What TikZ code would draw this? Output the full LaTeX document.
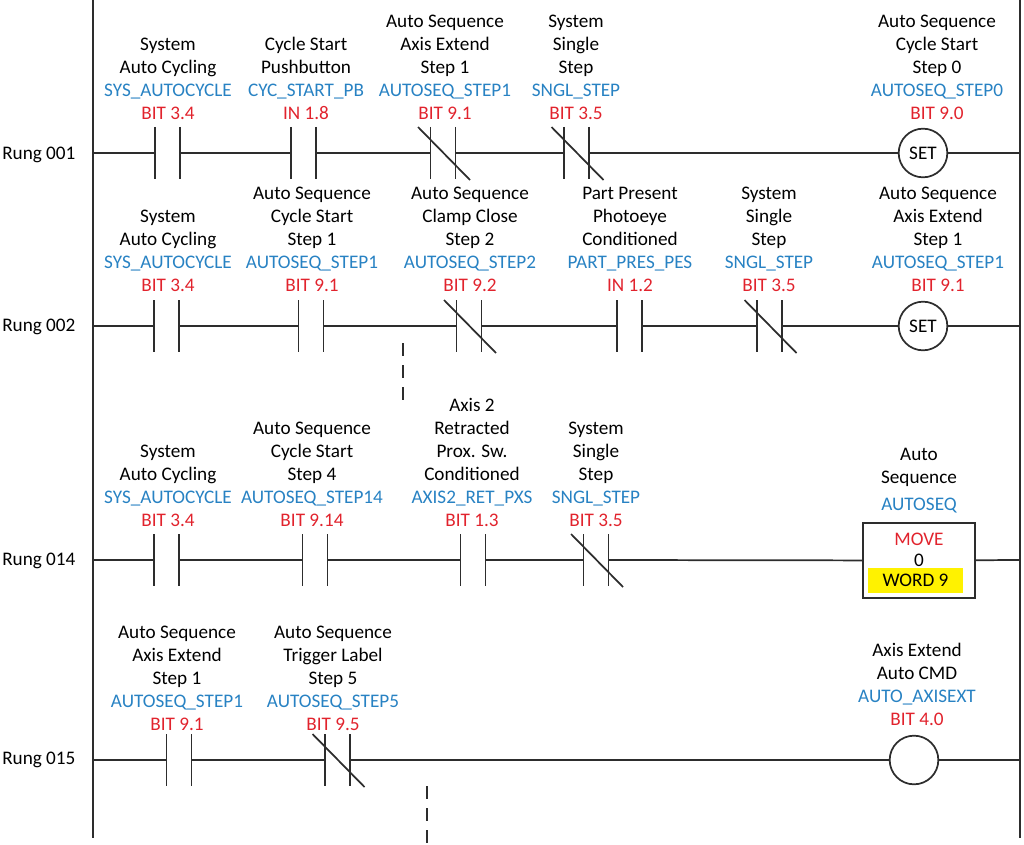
\documentclass[tikz,border=0pt]{standalone}
\usepackage{fontspec}
\setmainfont{Carlito}
\usepackage{xcolor}

\definecolor{tagblue}{RGB}{40,130,195}
\definecolor{addrred}{RGB}{225,35,45}
\definecolor{wire}{RGB}{45,45,45}

\newcommand{\tg}[1]{\textcolor{tagblue}{#1}}
\newcommand{\ad}[1]{\textcolor{addrred}{#1}}

\tikzset{
	rail/.style={line width=1.7pt, draw=wire},
	rung/.style={line width=1.3pt, draw=wire},
	cut/.style={rung, dash pattern=on 9.75pt off 6.75pt},
	lbl/.style={anchor=south, inner sep=0pt, align=center, font=\fontsize{14.4}{17.25}\selectfont},
	coil/.style={circle, draw=wire, line width=1.3pt, minimum size=36.5pt, inner sep=0pt, font=\fontsize{14.4}{17.25}\selectfont},
	no contact/.pic={
		\draw[rung] (-12.5,-26) -- (-12.5,26) (12.5,-26) -- (12.5,26);
		\coordinate (-l) at (-12.5,0);
		\coordinate (-r) at (12.5,0);
	},
	nc contact/.pic={
		\draw[rung] (-12.5,-26) -- (-12.5,26) (12.5,-26) -- (12.5,26);
		\draw[rung] (-25,-26) -- (27,27);
		\coordinate (-l) at (-12.5,0);
		\coordinate (-r) at (12.5,0);
	}
}

\begin{document}
\begin{tikzpicture}[x=0.75pt, y=-0.75pt]
	\useasboundingbox (0,0) rectangle (1024,845);
	
	% power rails
	\coordinate (lt) at (93,0);
	\coordinate (lb) at (93,838);
	\coordinate (rt) at (1020,0);
	\coordinate (rb) at (1020,838);
	\draw[rail] (lt) -- (lb);
	\draw[rail] (rt) -- (rb);
	
	% rung 001
	\node[lbl, anchor=west] (n1) at (2,155) {Rung 001};
	\coordinate (L1) at (93,153);
	\coordinate (R1) at (1020,153);
	\pic (c11) at (167.5,153) {no contact};
	\pic (c12) at (303.5,153) {no contact};
	\pic (c13) at (443,153) {nc contact};
	\pic (c14) at (576.5,153) {nc contact};
	\node[coil] (k1) at (923,153) {SET};
	\draw[rung] (L1) -- (c11-l) (c11-r) -- (c12-l) (c12-r) -- (c13-l) (c13-r) -- (c14-l) (c14-r) -- (k1) (k1) -- (R1);
	\node[lbl] (t11) at (168,120) {System\\Auto Cycling\\\tg{SYS\_AUTOCYCLE}\\\ad{BIT 3.4}};
	\node[lbl] (t12) at (306,120) {Cycle Start\\Pushbutton\\\tg{CYC\_START\_PB}\\\ad{IN 1.8}};
	\node[lbl] (t13) at (445,120) {Auto Sequence\\Axis Extend\\Step 1\\\tg{AUTOSEQ\_STEP1}\\\ad{BIT 9.1}};
	\node[lbl] (t14) at (576,120) {System\\Single\\Step\\\tg{SNGL\_STEP}\\\ad{BIT 3.5}};
	\node[lbl] (t15) at (937,120) {Auto Sequence\\Cycle Start\\Step 0\\\tg{AUTOSEQ\_STEP0}\\\ad{BIT 9.0}};
	
	% rung 002
	\node[lbl, anchor=west] (n2) at (2,327) {Rung 002};
	\coordinate (L2) at (93,326);
	\coordinate (R2) at (1020,326);
	\pic (c21) at (166.5,326) {no contact};
	\pic (c22) at (311,326) {no contact};
	\pic (c23) at (469,326) {nc contact};
	\pic (c24) at (629.5,326) {no contact};
	\pic (c25) at (769.5,326) {nc contact};
	\node[coil] (k2) at (923,326) {SET};
	\draw[rung] (L2) -- (c21-l) (c21-r) -- (c22-l) (c22-r) -- (c23-l) (c23-r) -- (c24-l) (c24-r) -- (c25-l) (c25-r) -- (k2) (k2) -- (R2);
	\node[lbl] (t21) at (168,292) {System\\Auto Cycling\\\tg{SYS\_AUTOCYCLE}\\\ad{BIT 3.4}};
	\node[lbl] (t22) at (312,292) {Auto Sequence\\Cycle Start\\Step 1\\\tg{AUTOSEQ\_STEP1}\\\ad{BIT 9.1}};
	\node[lbl] (t23) at (470,292) {Auto Sequence\\Clamp Close\\Step 2\\\tg{AUTOSEQ\_STEP2}\\\ad{BIT 9.2}};
	\node[lbl] (t24) at (630,292) {Part Present\\Photoeye\\Conditioned\\\tg{PART\_PRES\_PES}\\\ad{IN 1.2}};
	\node[lbl] (t25) at (769,292) {System\\Single\\Step\\\tg{SNGL\_STEP}\\\ad{BIT 3.5}};
	\node[lbl] (t26) at (938,292) {Auto Sequence\\Axis Extend\\Step 1\\\tg{AUTOSEQ\_STEP1}\\\ad{BIT 9.1}};
	
	% skipped rungs
	\coordinate (s1) at (403,343);
	\coordinate (s2) at (403,400);
	\draw[cut] (s1) -- (s2);
	
	% rung 014
	\node[lbl, anchor=west] (n3) at (2,561) {Rung 014};
	\coordinate (L3) at (93,560);
	\coordinate (R3) at (1020,560);
	\pic (c31) at (166.5,560) {no contact};
	\pic (c32) at (315,560) {no contact};
	\pic (c33) at (473,560) {no contact};
	\pic (c34) at (596,560) {nc contact};
	\node[draw=wire, line width=1.4pt, minimum width=84pt, minimum height=56.25pt, inner sep=0pt] (m3) at (919,560.5) {};
	\draw[rung] (L3) -- (c31-l) (c31-r) -- (c32-l) (c32-r) -- (c33-l) (c33-r) -- (c34-l) (c34-r) -- (m3) (m3) -- (R3);
	\node[lbl] (t31) at (168,527) {System\\Auto Cycling\\\tg{SYS\_AUTOCYCLE}\\\ad{BIT 3.4}};
	\node[lbl] (t32) at (312,527) {Auto Sequence\\Cycle Start\\Step 4\\\tg{AUTOSEQ\_STEP14}\\\ad{BIT 9.14}};
	\node[lbl] (t33) at (472,527) {Axis 2\\Retracted\\Prox. Sw.\\Conditioned\\\tg{AXIS2\_RET\_PXS}\\\ad{BIT 1.3}};
	\node[lbl] (t34) at (596,527) {System\\Single\\Step\\\tg{SNGL\_STEP}\\\ad{BIT 3.5}};
	\node[lbl] (t35) at (919,513) {Auto\\Sequence\\[3pt]\tg{AUTOSEQ}};
	\node[lbl, anchor=center, text=addrred] (mv) at (919,539) {MOVE};
	\node[lbl, anchor=center] (mz) at (919,560) {0};
	\node[lbl, anchor=center, fill=yellow, minimum width=71.25pt, minimum height=18.75pt] (mw) at (915.5,580.5) {WORD 9};
	
	% rung 015
	\node[lbl, anchor=west] (n4) at (2,760) {Rung 015};
	\coordinate (L4) at (93,760);
	\coordinate (R4) at (1020,760);
	\pic (c41) at (179,760) {no contact};
	\pic (c42) at (337.5,760) {nc contact};
	\node[coil] (k4) at (914,760) {};
	\draw[rung] (L4) -- (c41-l) (c41-r) -- (c42-l) (c42-r) -- (k4) (k4) -- (R4);
	\node[lbl] (t41) at (177,731) {Auto Sequence\\Axis Extend\\Step 1\\\tg{AUTOSEQ\_STEP1}\\\ad{BIT 9.1}};
	\node[lbl] (t42) at (333,731) {Auto Sequence\\Trigger Label\\Step 5\\\tg{AUTOSEQ\_STEP5}\\\ad{BIT 9.5}};
	\node[lbl] (t43) at (917,726) {Axis Extend\\Auto CMD\\\tg{AUTO\_AXISEXT}\\\ad{BIT 4.0}};
	
	% skipped rungs
	\coordinate (s3) at (427,786);
	\coordinate (s4) at (427,845);
	\draw[cut] (s3) -- (s4);
\end{tikzpicture}
\end{document}
